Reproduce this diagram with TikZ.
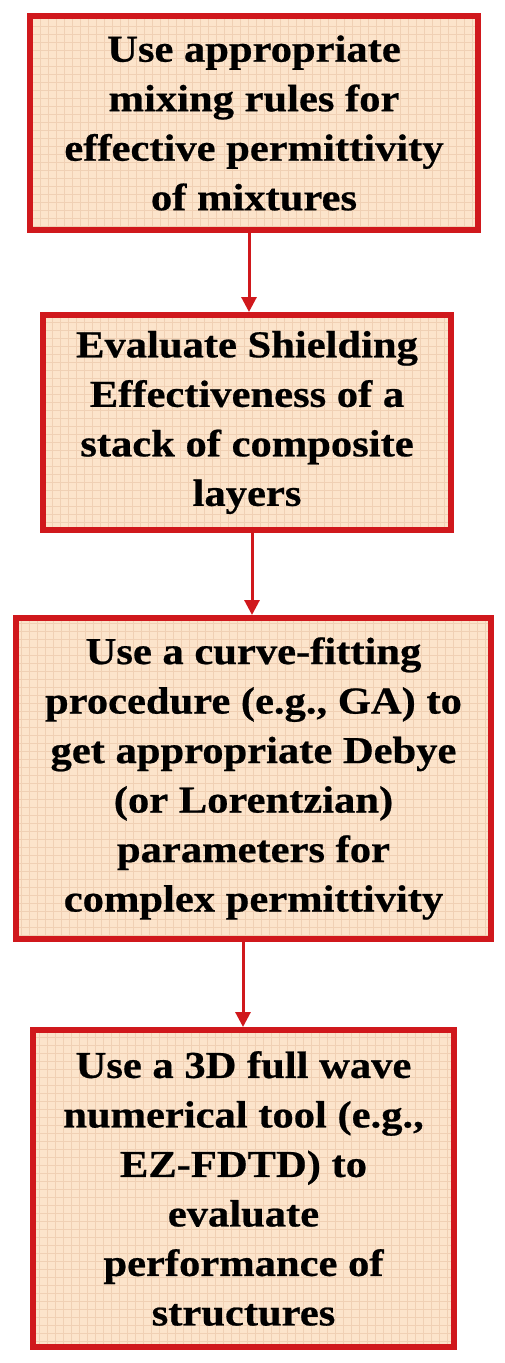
\documentclass[tikz,border=0pt]{standalone}
\usepackage{fontspec}
\setmainfont{Liberation Serif}[BoldFeatures={FakeStretch=1.12,FakeBold=0.6}]
\usetikzlibrary{arrows.meta}
\definecolor{boxred}{RGB}{208,24,28}
\definecolor{boxfill}{RGB}{252,228,203}
\definecolor{gridc}{RGB}{240,208,180}
\begin{document}
\begin{tikzpicture}[x=1pt,y=-1pt,
  stepbox/.style={draw=boxred, line width=6pt, fill=boxfill, rectangle,
    inner sep=0pt, align=center,
    font=\fontsize{38}{49.5}\selectfont\bfseries,
    path picture={\draw[gridc, line width=0.5pt, step=8pt]
      (path picture bounding box.south west) grid (path picture bounding box.north east);}},
  arr/.style={draw=boxred, line width=3pt, -{Triangle[length=15pt,width=15pt]}}]
\useasboundingbox (0,0) rectangle (504,1363);
\node[stepbox, minimum width=448pt, minimum height=214pt] (b1) at (254,123)
  {Use appropriate\\mixing rules for\\effective permittivity\\of mixtures};
\node[stepbox, minimum width=408pt, minimum height=215pt] (b2) at (247,422.5)
  {Evaluate Shielding\\Effectiveness of a\\stack of composite\\layers};
\node[stepbox, minimum width=475pt, minimum height=321pt] (b3) at (253.5,778.5)
  {Use a curve-fitting\\procedure (e.g., GA) to\\get appropriate Debye\\(or Lorentzian)\\parameters for\\complex permittivity};
\node[stepbox, minimum width=421pt, minimum height=317pt] (b4) at (243.5,1188.5)
  {Use a 3D full wave\\numerical tool (e.g.,\\EZ-FDTD) to\\evaluate\\performance of\\structures};
\coordinate (c1) at (249,0);
\coordinate (c2) at (252,0);
\coordinate (c3) at (243,0);
\draw[arr] (b1.south -| c1) -- (b2.north -| c1);
\draw[arr] (b2.south -| c2) -- (b3.north -| c2);
\draw[arr] (b3.south -| c3) -- (b4.north -| c3);
\end{tikzpicture}
\end{document}
